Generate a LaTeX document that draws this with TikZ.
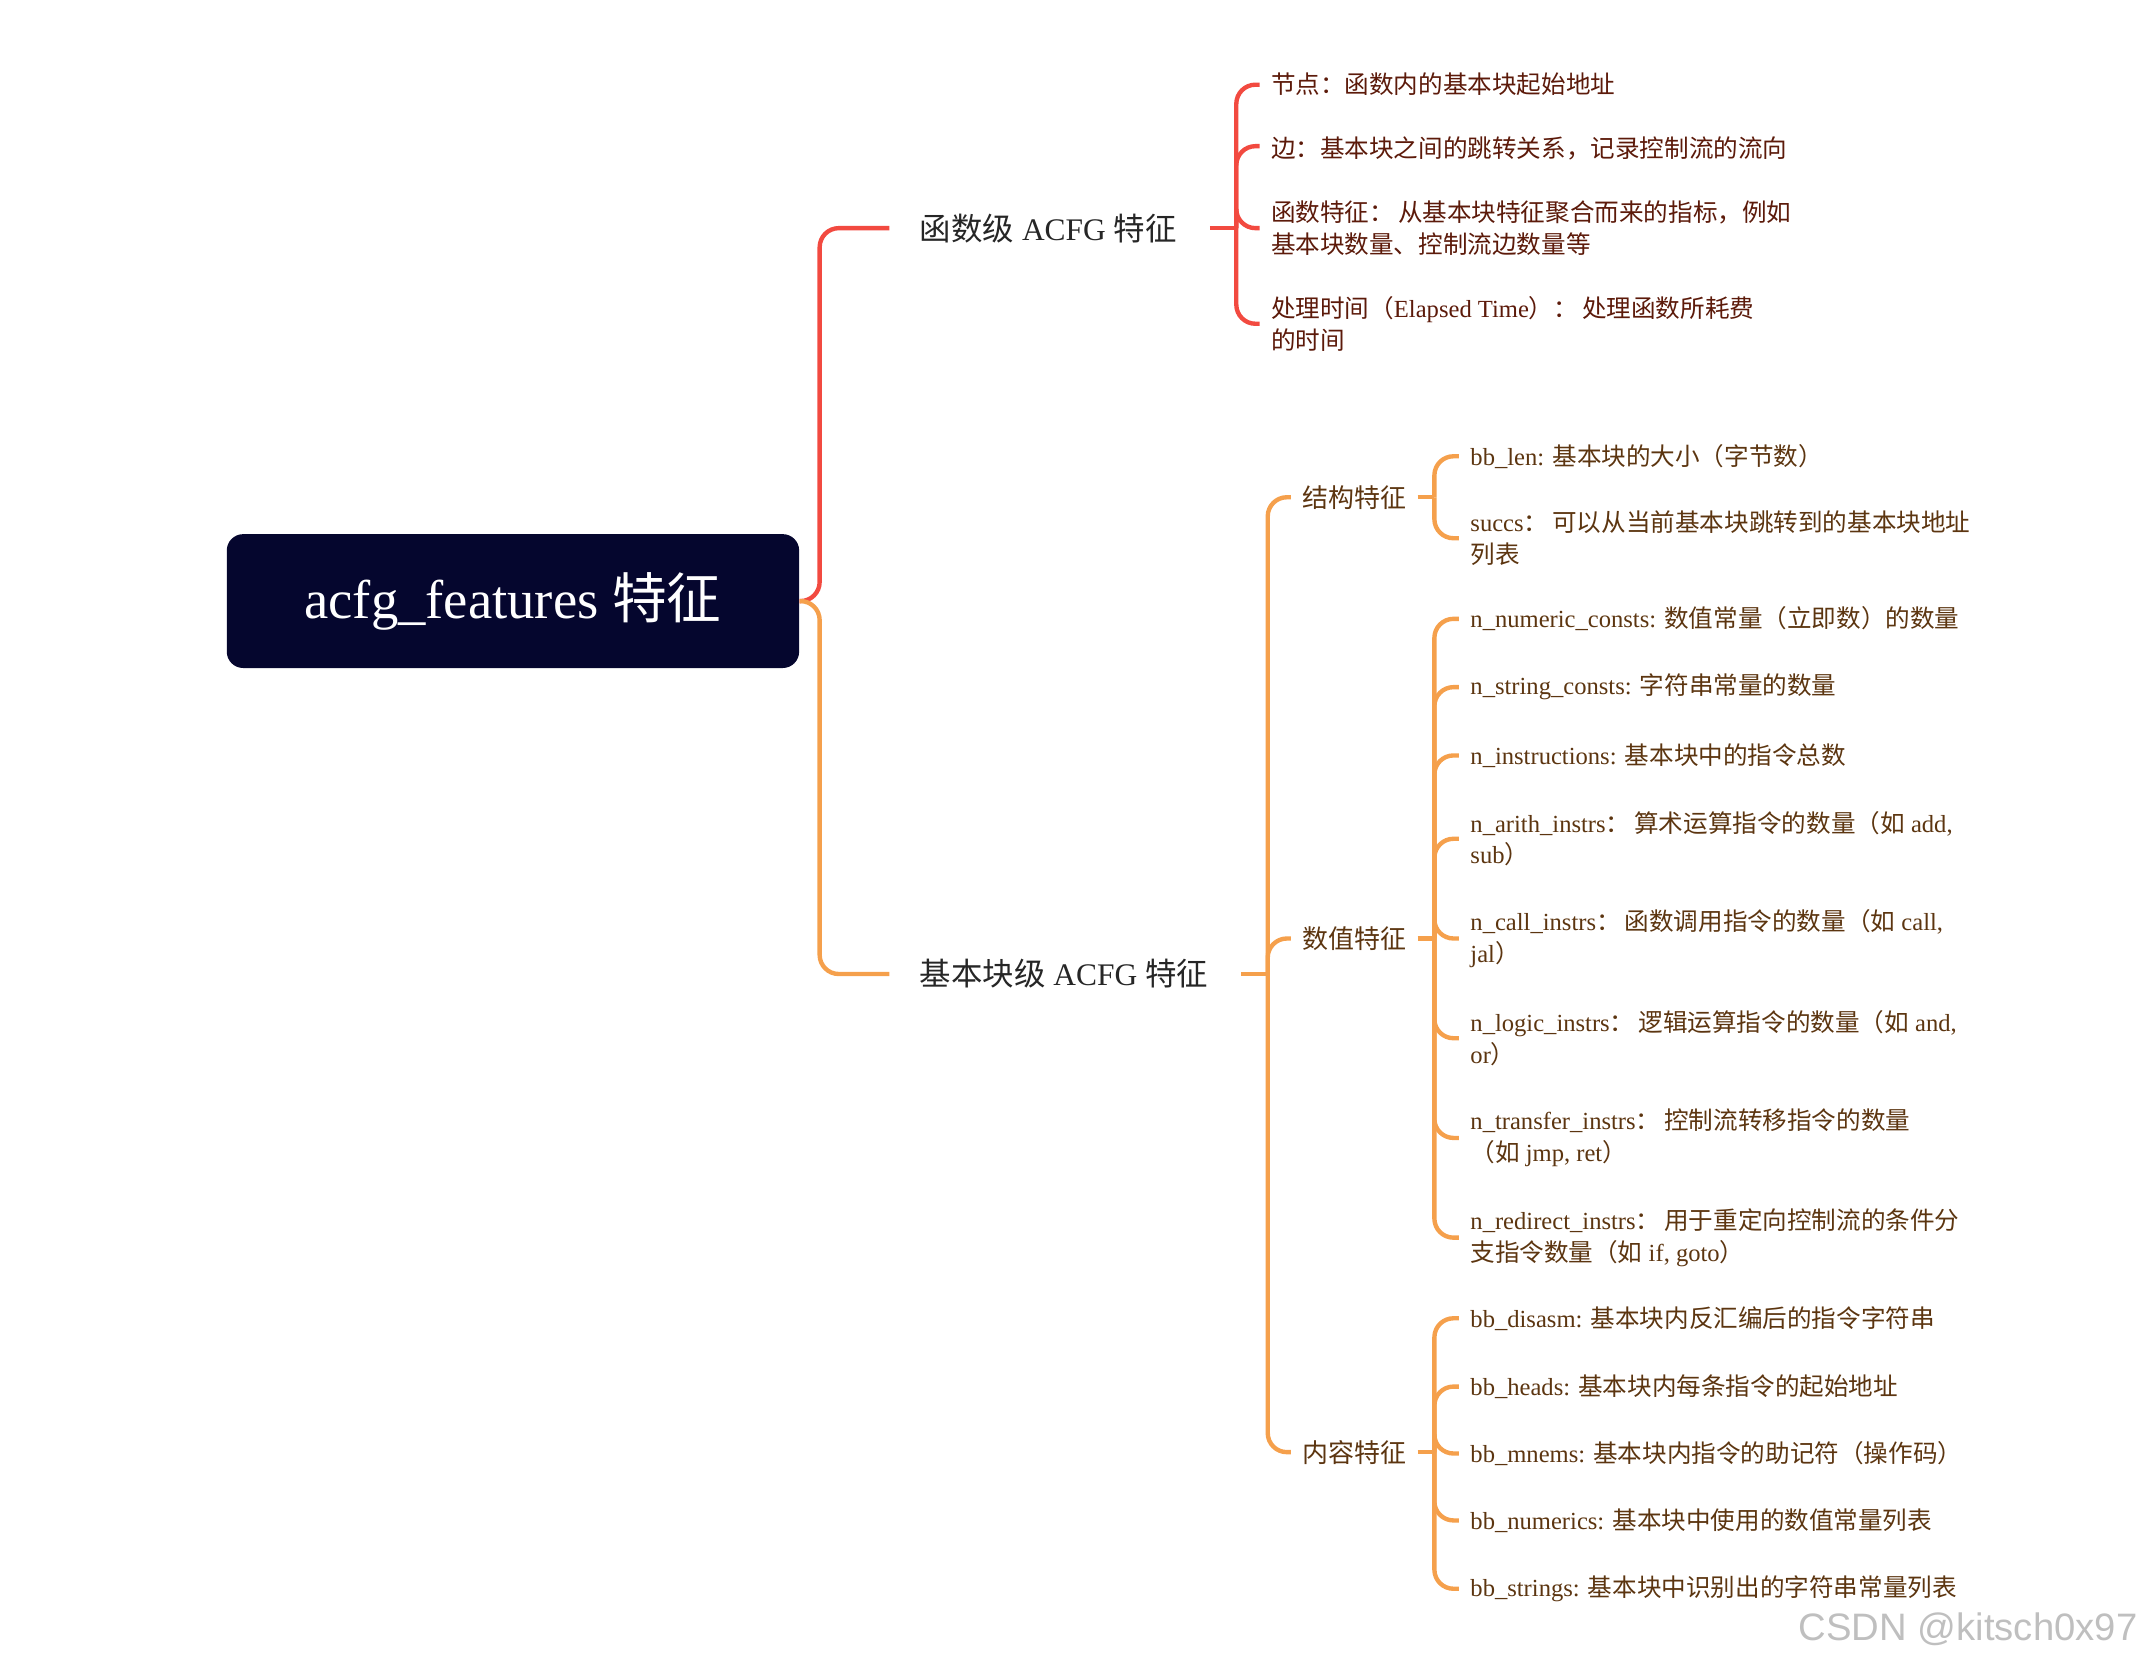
\documentclass[tikz,border=0pt]{standalone}
\usepackage{fontspec}
\setmainfont{Liberation Serif}
\setsansfont{Liberation Sans}
\newfontfamily\cjk{Noto Sans CJK SC}
\newcommand\C[1]{{\cjk #1}}
\definecolor{rootc}{HTML}{05062E}
\definecolor{redc}{HTML}{F24A40}
\definecolor{orc}{HTML}{F5A04C}
\definecolor{redt}{HTML}{5C1A0A}
\definecolor{ort}{HTML}{5C3510}
\begin{document}
\begin{tikzpicture}[x=0.5pt,y=-0.5pt,
  rl/.style={draw=redc,line width=1.6pt,rounded corners=7pt},
  ol/.style={draw=orc,line width=1.6pt,rounded corners=7pt},
  leafr/.style={anchor=west,inner sep=0pt,align=left,text=redt,font=\fontsize{9}{11.5}\selectfont},
  leafo/.style={anchor=west,inner sep=0pt,align=left,text=ort,font=\fontsize{9}{11.5}\selectfont},
  mid/.style={anchor=west,inner sep=0pt,text=black!85,font=\fontsize{11.5}{14}\selectfont},
  sub/.style={anchor=west,inner sep=0pt,text=ort,font=\fontsize{9.5}{12}\selectfont}]
\useasboundingbox (0,0) rectangle (1568,1220);
\node[fill=rootc,rounded corners=6pt,minimum width=209.5pt,minimum height=49pt,inner sep=0pt,text=white,font=\fontsize{20}{24}\selectfont] (root) at (375.5,440) {acfg\_features \C{特征}};
\coordinate (j0) at (600,440);
\node[mid] (f) at (673,167) {\C{函数级} ACFG \C{特征}};
\node[mid] (b) at (673,713) {\C{基本块级} ACFG \C{特征}};
\draw[rl] (root.east) -- (j0) |- ([xshift=-11pt]f.west);
\draw[ol] (root.east) -- (j0) |- ([xshift=-11pt]b.west);
% function level
\coordinate (jf) at (905,167);
\draw[redc,line width=1.6pt] ([xshift=12pt]f.east) -- (jf);
\node[leafr] (f1) at (930,62) {\C{节点：函数内的基本块起始地址}};
\node[leafr] (f2) at (930,109) {\C{边：基本块之间的跳转关系，记录控制流的流向}};
\node[leafr] (f3) at (930,167) {\C{函数特征：\,从基本块特征聚合而来的指标，例如}\\\C{基本块数量、控制流边数量等}};
\node[leafr] (f4) at (930,237) {\C{处理时间（}Elapsed Time\C{）：\,处理函数所耗费}\\\C{的时间}};
\foreach \n/\y in {f1/62,f2/107,f3/167,f4/237}
  \draw[rl] (jf) |- (922,\y);
% basic block level
\coordinate (jb) at (928,713);
\draw[orc,line width=1.6pt] ([xshift=12pt]b.east) -- (jb);
\node[sub] (s1) at (953,364) {\C{结构特征}};
\node[sub] (s2) at (953,687) {\C{数值特征}};
\node[sub] (s3) at (953,1063) {\C{内容特征}};
\foreach \n in {s1,s2,s3}
  \draw[ol] (jb) |- ([xshift=-4pt]\n.west);
% structural
\coordinate (k1) at (1050,364);
\draw[orc,line width=1.6pt] ([xshift=4pt]s1.east) -- (k1);
\node[leafo] (a1) at (1076,334) {bb\_len: \C{基本块的大小（字节数）}};
\node[leafo] (a2) at (1076,394) {succs\C{：\,可以从当前基本块跳转到的基本块地址}\\\C{列表}};
\draw[ol] (k1) |- (1068,334);
\draw[ol] (k1) |- (1068,394);
% numeric
\coordinate (k2) at (1050,687);
\draw[orc,line width=1.6pt] ([xshift=4pt]s2.east) -- (k2);
\node[leafo] (n1) at (1076,453) {n\_numeric\_consts: \C{数值常量（立即数）的数量}};
\node[leafo] (n2) at (1076,503) {n\_string\_consts: \C{字符串常量的数量}};
\node[leafo] (n3) at (1076,553) {n\_instructions: \C{基本块中的指令总数}};
\node[leafo] (n4) at (1076,614) {n\_arith\_instrs\C{：\,算术运算指令的数量（如} add,\\sub\C{）}};
\node[leafo] (n5) at (1076,687) {n\_call\_instrs\C{：\,函数调用指令的数量（如} call,\\jal\C{）}};
\node[leafo] (n6) at (1076,760) {n\_logic\_instrs\C{：\,逻辑运算指令的数量（如} and,\\or\C{）}};
\node[leafo] (n7) at (1076,833) {n\_transfer\_instrs\C{：\,控制流转移指令的数量}\\\C{（如} jmp, ret\C{）}};
\node[leafo] (n8) at (1076,906) {n\_redirect\_instrs\C{：\,用于重定向控制流的条件分}\\\C{支指令数量（如} if, goto\C{）}};
\foreach \y in {453,503,553,614,687,760,833,906}
  \draw[ol] (k2) |- (1068,\y);
% content
\coordinate (k3) at (1050,1063);
\draw[orc,line width=1.6pt] ([xshift=4pt]s3.east) -- (k3);
\node[leafo] (c1) at (1076,965) {bb\_disasm: \C{基本块内反汇编后的指令字符串}};
\node[leafo] (c2) at (1076,1015) {bb\_heads: \C{基本块内每条指令的起始地址}};
\node[leafo] (c3) at (1076,1064) {bb\_mnems: \C{基本块内指令的助记符（操作码）}};
\node[leafo] (c4) at (1076,1113) {bb\_numerics: \C{基本块中使用的数值常量列表}};
\node[leafo] (c5) at (1076,1163) {bb\_strings: \C{基本块中识别出的字符串常量列表}};
\foreach \y in {965,1015,1064,1113,1163}
  \draw[ol] (k3) |- (1068,\y);
\node[anchor=east,inner sep=0pt,text=black!25,font=\sffamily\fontsize{14}{16}\selectfont] (wm) at (1565,1193) {CSDN @kitsch0x97};
\end{tikzpicture}
\end{document}
